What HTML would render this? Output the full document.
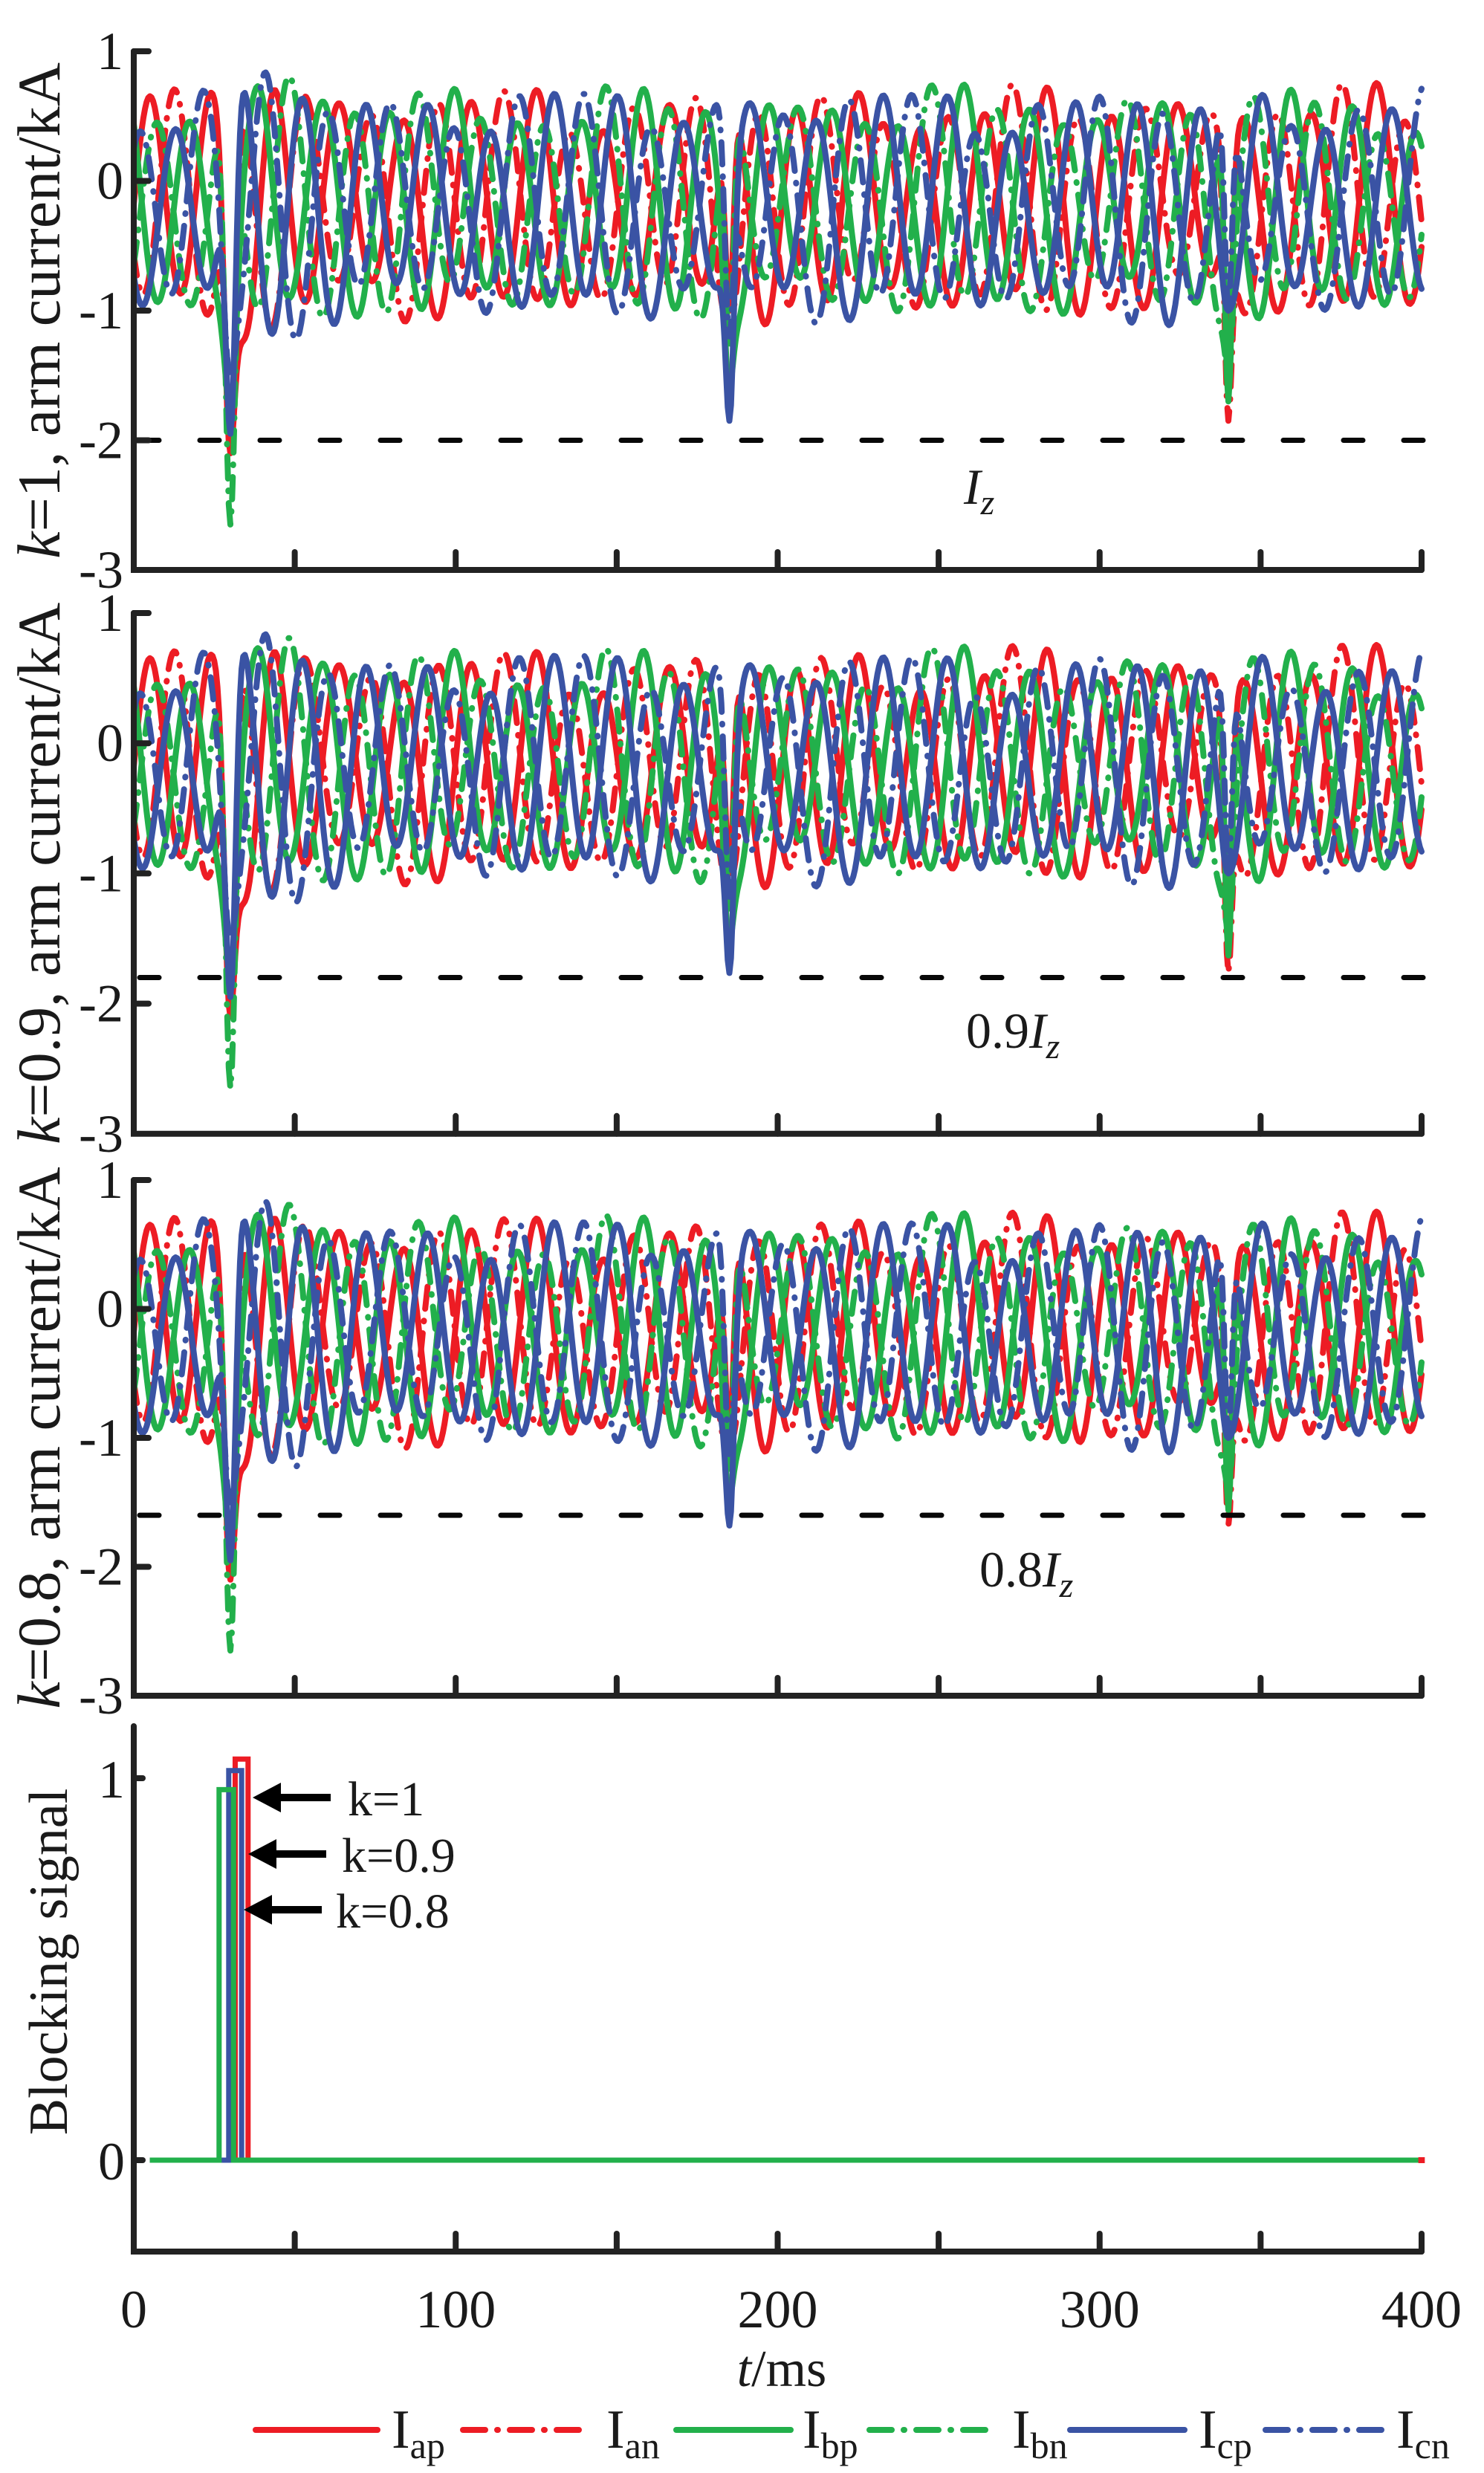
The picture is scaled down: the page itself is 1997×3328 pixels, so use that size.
<!DOCTYPE html>
<html><head><meta charset="utf-8"><style>
html,body{margin:0;padding:0;background:#fff;}
svg{display:block;}
text{font-family:"Liberation Serif",serif;fill:#1a1a1a;}
</style></head><body>
<svg id="s" width="1997" height="3328" viewBox="0 0 1997 3328" xmlns="http://www.w3.org/2000/svg">
<g id="data"></g>
<g id="axes" stroke="#222" stroke-width="8" fill="none" stroke-linecap="round"></g>
<g id="txt"></g>
</svg>
<script>
var NS="http://www.w3.org/2000/svg";
function el(p,tag,attrs,txt){var e=document.createElementNS(NS,tag);for(var k in attrs)e.setAttribute(k,attrs[k]);if(txt!=null)e.textContent=txt;p.appendChild(e);return e;}
var D=document.getElementById('data'),A=document.getElementById('axes'),T=document.getElementById('txt');
var X0=180,XS=4.3325;
function X(t){return X0+t*XS;}
var RED="#ed1c24",GRN="#22b04b",BLU="#3a53a4";
var series=[
 {c:RED,ph:0,d:false},{c:RED,ph:Math.PI+0.3,d:true},
 {c:GRN,ph:2.094,d:false},{c:GRN,ph:2.094+Math.PI+0.3,d:true},
 {c:BLU,ph:4.189,d:false},{c:BLU,ph:4.189+Math.PI+0.3,d:true}];
var panels=[{y1:69,sp:174.5,th:-2,lab:"=1, arm current/kA",thl:"",tx:1297,ty:678,s:1},
 {y1:825,sp:175.2,th:-1.8,lab:"=0.9, arm current/kA",thl:"0.9",tx:1300,ty:1410,s:0.9},
 {y1:1588,sp:173.5,th:-1.6,lab:"=0.8, arm current/kA",thl:"0.8",tx:1318,ty:2135,s:0.8}];
function g(t,m,w){return Math.exp(-Math.pow((t-m)/w,2));}
var tA=[-2.1,-2.0,-1.8,-2.65,-1.95,-1.5];
var tB=[-1.0,-1.0,-1.6,-1.3,-1.85,-1.2];
var tC=[-1.3,-1.85,-1.7,-1.5,-1.0,-1.0];
panels.forEach(function(P,pi){
  function Y(v){return P.y1+(1-v)*P.sp;}
  series.forEach(function(S,si){
    var d="";
    for(var t=0;t<=400;t+=0.5){
      var amp=0.74+0.25*g(t,42,10)+0.08*Math.sin(2*Math.PI*t/90+si);
      var v=-0.18+amp*Math.sin(2*Math.PI*t/20+S.ph+0.4*Math.sin(t/37+si))+0.12*Math.sin(2*Math.PI*t/53+si);
      var a=g(t,30,2.2),b=g(t,185,1.8),c=g(t,340,1.6);
      var sB=(P.s==1?1:(P.s==0.9?0.9:0.8)), adj=function(x){return -1+(x+1)*sB;};
      v=v*(1-a)+tA[si]*a; v=v*(1-b)+adj(tB[si])*b; v=v*(1-c)+adj(tC[si])*c;
      if(v>1)v=1;
      d+=(t==0?"M":"L")+X(t).toFixed(1)+" "+Y(v).toFixed(1);
    }
    var at={d:d,stroke:S.c,"stroke-width":8,fill:"none","stroke-linecap":"round","stroke-linejoin":"round"};
    if(S.d)at["stroke-dasharray"]="30 16 1 16";
    el(D,"path",at);
  });
  el(D,"line",{x1:X(0)+8,x2:1917,y1:Y(P.th),y2:Y(P.th),stroke:"#080808","stroke-width":7,"stroke-dasharray":"26 55","stroke-linecap":"round"});
  var yb=Y(-3);
  el(A,"path",{d:"M"+X0+" "+P.y1+" L"+X0+" "+yb+" L"+X(400)+" "+yb});
  for(var i=0;i<4;i++)el(A,"line",{x1:X0,x2:X0+20,y1:Y(1-i),y2:Y(1-i)});
  for(var j=1;j<=8;j++)el(A,"line",{x1:X(j*50),x2:X(j*50),y1:yb,y2:yb-24});
  ["1","0","-1","-2","-3"].forEach(function(s,i){el(T,"text",{x:X0-14,y:Y(1-i)+24,"font-size":72,"text-anchor":"end"},s);});
  var tl=el(T,"text",{x:0,y:0,"font-size":82,"text-anchor":"middle",transform:"translate(80,"+(P.y1+2*P.sp)+") rotate(-90)"});
  el(tl,"tspan",{"font-style":"italic"},"k");el(tl,"tspan",{},P.lab);
  var lt=el(T,"text",{x:P.tx,y:P.ty,"font-size":68});
  if(P.thl)el(lt,"tspan",{},P.thl);
  el(lt,"tspan",{"font-style":"italic"},"I");
  el(lt,"tspan",{"font-style":"italic","font-size":48,dy:14},"z");
});
var y1=2393,y0=2907,yb=3030;
function Yb(v){return y0-(y0-y1)*v;}
el(A,"path",{d:"M"+X0+" 2323 L"+X0+" "+yb+" L"+X(400)+" "+yb});
el(A,"line",{x1:X0,x2:X0+12,y1:y1,y2:y1});el(A,"line",{x1:X0,x2:X0+12,y1:y0,y2:y0});
for(var j=1;j<=8;j++)el(A,"line",{x1:X(j*50),x2:X(j*50),y1:yb,y2:yb-24});
function step(c,a,b,h){el(D,"path",{d:"M"+X(5)+" "+y0+" L"+X(a)+" "+y0+" L"+X(a)+" "+Yb(h)+" L"+X(b)+" "+Yb(h)+" L"+X(b)+" "+y0+" L"+X(400)+" "+y0,stroke:c,"stroke-width":7,fill:"none"});}
step(RED,31.5,35.5,1.05);step(BLU,29.5,33.5,1.02);step(GRN,26.5,31,0.97);
el(D,"line",{x1:X(399),x2:X(401),y1:y0,y2:y0,stroke:RED,"stroke-width":8});
el(T,"text",{x:X0-12,y:y1+26,"font-size":72,"text-anchor":"end"},"1");
el(T,"text",{x:X0-12,y:y0+26,"font-size":72,"text-anchor":"end"},"0");
el(T,"text",{x:0,y:0,"font-size":74,"text-anchor":"middle",transform:"translate(90,2640) rotate(-90)"},"Blocking signal");
[[340,2419,"k=1",468],[334,2495,"k=0.9",460],[328,2570,"k=0.8",452]].forEach(function(a){
  el(D,"line",{x1:a[0]+30,x2:a[0]+105,y1:a[1],y2:a[1],stroke:"#000","stroke-width":10});
  el(D,"path",{d:"M"+a[0]+" "+a[1]+" L"+(a[0]+38)+" "+(a[1]-20)+" L"+(a[0]+38)+" "+(a[1]+20)+"Z",fill:"#000"});
  el(T,"text",{x:a[3],y:a[1]+24,"font-size":66},a[2]);
});
["0","100","200","300","400"].forEach(function(s,i){el(T,"text",{x:X(i*100),y:3132,"font-size":72,"text-anchor":"middle"},s);});
var xl=el(T,"text",{x:1052,y:3211,"font-size":70,"text-anchor":"middle"});
el(xl,"tspan",{"font-style":"italic"},"t");el(xl,"tspan",{},"/ms");
[[344,508,RED,0,"ap",527],[623,790,RED,1,"an",816],[910,1064,GRN,0,"bp",1080],[1170,1337,GRN,1,"bn",1362],[1440,1594,BLU,0,"cp",1613],[1703,1864,BLU,1,"cn",1879]].forEach(function(L){
  var a={x1:L[0],x2:L[1],y1:3270,y2:3270,stroke:L[2],"stroke-width":8,"stroke-linecap":"round"};
  if(L[3])a["stroke-dasharray"]="30 16 1 16";
  el(D,"line",a);
  var t=el(T,"text",{x:L[5],y:3294,"font-size":74});
  el(t,"tspan",{},"I");el(t,"tspan",{"font-size":50,dy:14},L[4]);
});
</script>
</body></html>
